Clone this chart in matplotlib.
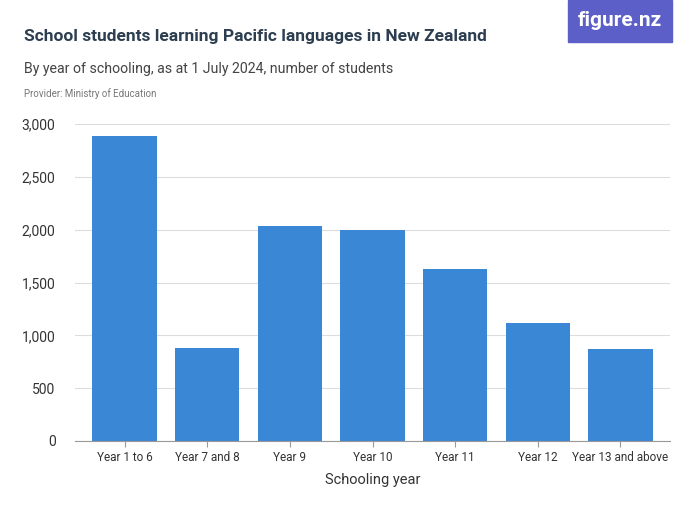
import matplotlib.pyplot as plt
import matplotlib.patches as mpatches

plt.rcParams['font.family'] = ['Roboto', 'DejaVu Sans']

categories = ["Year 1 to 6", "Year 7 and 8", "Year 9", "Year 10", "Year 11", "Year 12", "Year 13 and above"]
students = [2890, 880, 2035, 1995, 1625, 1115, 870]

fig = plt.figure(figsize=(7, 5.25), dpi=100)
ax = fig.add_axes([75 / 700, 84 / 525, 595 / 700, 317 / 525])

ax.bar(range(len(categories)), students, width=0.78, color="#3a87d6", zorder=2)
ax.set_xlim(-0.6, len(categories) - 0.4)
ax.set_ylim(0, 3000)
ax.set_yticks(range(0, 3001, 500))
ax.set_yticklabels([f"{v:,}" for v in range(0, 3001, 500)])
ax.set_xticks(range(len(categories)))
ax.set_xticklabels(categories)
ax.grid(axis="y", color="#dddddd", linewidth=0.8, zorder=0)
for s in ["top", "right", "left"]:
    ax.spines[s].set_visible(False)
ax.spines["bottom"].set_color("#999999")
ax.tick_params(axis="y", length=0, labelsize=10, colors="#333333", pad=14)
ax.tick_params(axis="x", length=4, color="#999999", labelsize=8.5, colors="#333333")
ax.set_xlabel("Schooling year", fontsize=10.5, color="#333333", labelpad=6)

fig.text(24 / 700, 1 - 36 / 525, "School students learning Pacific languages in New Zealand",
         fontsize=12.5, fontweight="bold", color="#2c3e50", va="center")
fig.text(24 / 700, 1 - 69 / 525, "By year of schooling, as at 1 July 2024, number of students",
         fontsize=10.2, color="#444444", va="center")
fig.text(24 / 700, 1 - 94 / 525, "Provider: Ministry of Education",
         fontsize=7, color="#777777", va="center")

fig.patches.append(mpatches.Rectangle((568 / 700, 1 - 42 / 525), 104 / 700, 42 / 525,
                                      transform=fig.transFigure, color="#5b5fc7", zorder=0))
fig.text(620 / 700, 1 - 20 / 525, "figure.nz", fontsize=15, fontweight="bold",
         color="white", ha="center", va="center")

fig.savefig("out.png", dpi=100)
